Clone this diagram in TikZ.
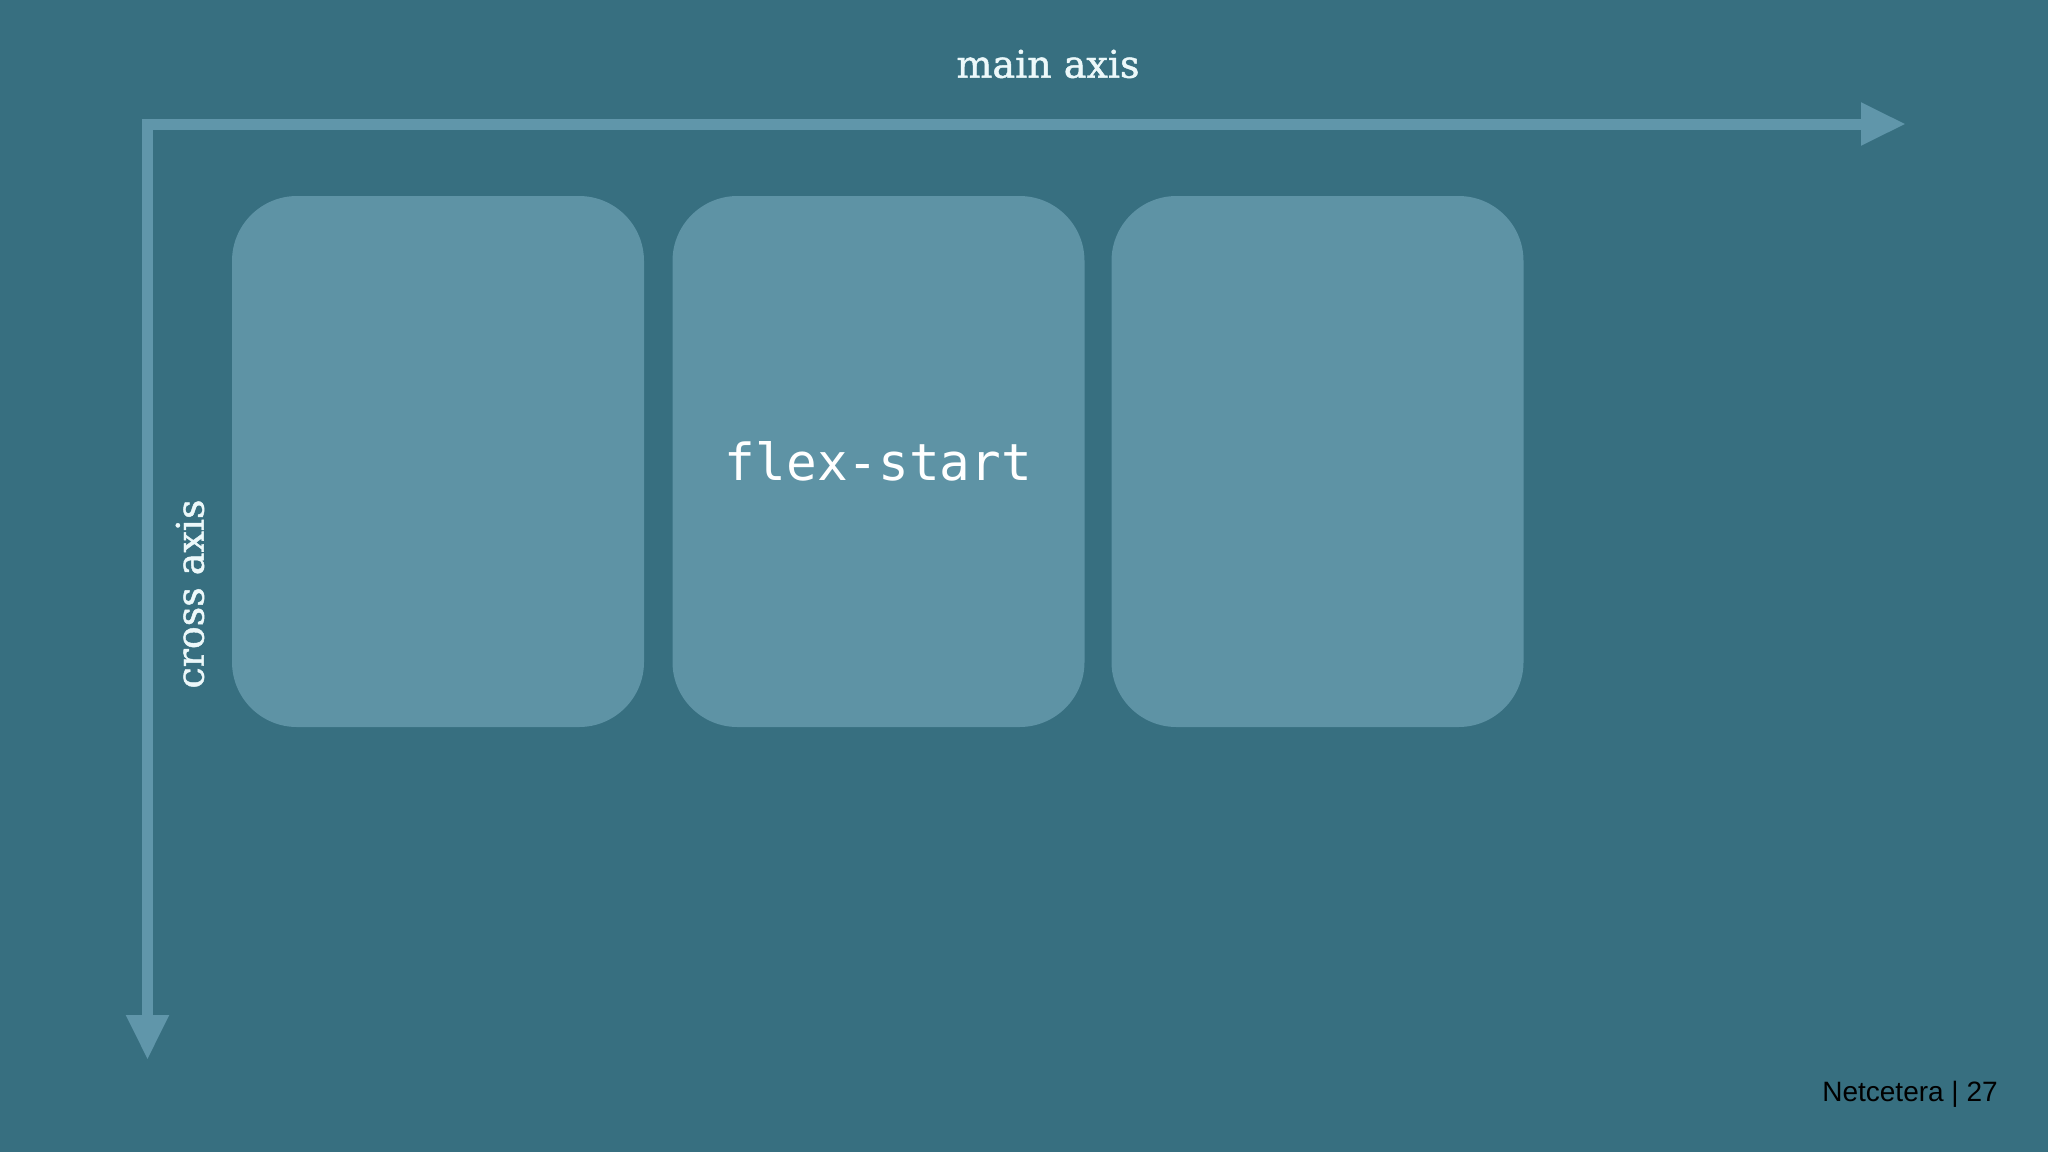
\documentclass[tikz,border=0pt]{standalone}
\usepackage{fontspec}
\setmainfont{DejaVu Serif}
\newfontfamily\labelfont[FakeBold=1.2]{DejaVu Serif}
\newfontfamily\footfont{Liberation Sans}
\setmonofont{DejaVu Sans Mono}
\usetikzlibrary{arrows.meta}
\definecolor{bgcol}{RGB}{55,111,128}
\definecolor{boxcol}{RGB}{94,147,165}
\definecolor{axiscol}{RGB}{96,150,170}
\definecolor{labelcol}{RGB}{236,248,250}
\tikzset{
  flexbox/.style={fill=boxcol, draw=none, rounded corners=65pt, minimum width=412pt, minimum height=531pt, inner sep=0pt},
  axisline/.style={draw=axiscol, line width=11pt, miter limit=10, {Triangle[length=45pt,width=40pt]}-{Triangle[length=45pt,width=40pt]}},
  axislabel/.style={text=labelcol, font=\labelfont\fontsize{38}{44}\selectfont, inner sep=0pt}
}
\begin{document}
\begin{tikzpicture}[x=1pt,y=-1pt]
\fill[bgcol] (0,0) rectangle (2048,1152);
\useasboundingbox (0,0) rectangle (2048,1152);
\coordinate (corner) at (147.5,124);
\coordinate (xend) at (1906,124);
\coordinate (yend) at (147.5,1060);
\draw[axisline] (xend) -- (corner) -- (yend);
\node[axislabel] (main) at (1048,64) {main axis};
\node[axislabel, rotate=90] (cross) at (190,594) {cross axis};
\node[flexbox] (b1) at (438,461.5) {};
\node[flexbox] (b2) at (878.5,461.5) {};
\node[flexbox] (b3) at (1317.5,461.5) {};
\node[text=white, font=\ttfamily\fontsize{51}{60}\selectfont, inner sep=0pt] (lbl) at (878.5,461) {flex-start};
\node[text=black, font=\footfont\fontsize{28}{34}\selectfont, inner sep=0pt] (foot) at (1910,1094) {Netcetera | 27};
\end{tikzpicture}
\end{document}
